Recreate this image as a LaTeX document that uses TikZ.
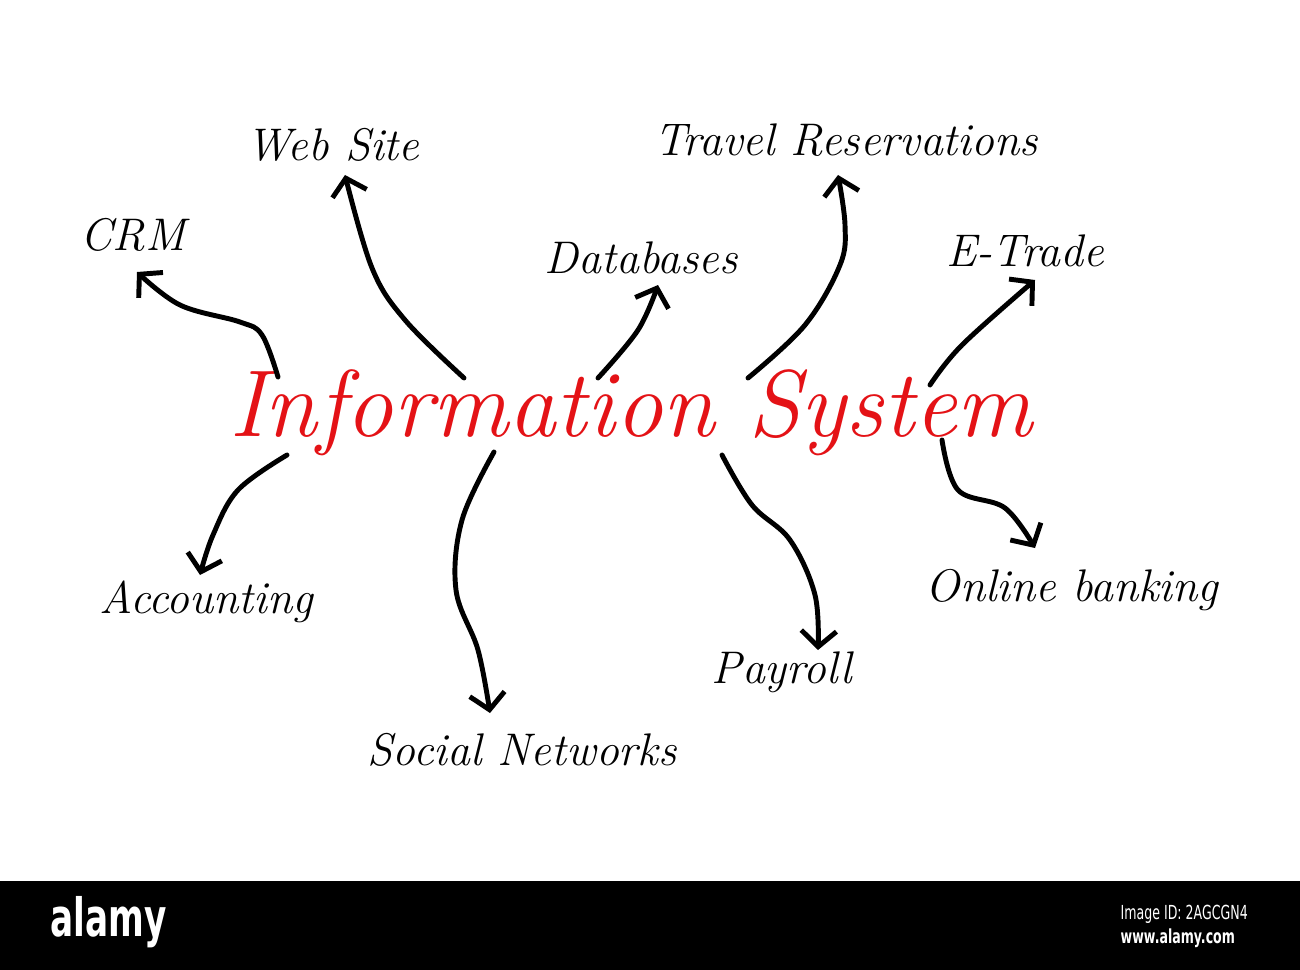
\documentclass[tikz,border=0pt]{standalone}
\usepackage{fontspec}
\usetikzlibrary{arrows.meta}
\newfontfamily\wmfont[FakeStretch=0.65]{DejaVu Sans}
\definecolor{sysred}{RGB}{228,18,22}

\tikzset{
    label/.style={font=\fontsize{13}{15}\selectfont\itshape, inner sep=0pt},
    branch/.style={line width=1.4pt, line cap=round, line join=round,
        -{Straight Barb[length=4.5pt, width=10pt, line width=1.4pt]}},
}

\begin{document}
\begin{tikzpicture}[x=0.01cm, y=-0.01cm]
    \useasboundingbox (0,0) rectangle (1300,970);
    \fill[white] (0,0) rectangle (1300,970);

    % the centre
    \node[font=\fontsize{27}{31}\selectfont\itshape, text=sysred, inner sep=0pt] (info) at (631,413) {Information System};

    % the labels round it
    \node[label] (crm) at (133,235) {CRM};
    \node[label] (web) at (333,145) {Web Site};
    \node[label] (db) at (641,258) {Databases};
    \node[label] (travel) at (846,140) {Travel Reservations};
    \node[label] (etrade) at (1025,251) {E-Trade};
    \node[label] (acc) at (206,602) {Accounting};
    \node[label] (social) at (522,750) {Social Networks};
    \node[label] (payroll) at (782,672) {Payroll};
    \node[label] (bank) at (1072,590) {Online banking};

    % where the strokes start and stop
    \coordinate (s-crm) at (278,377);    \coordinate (t-crm) at (137,272);
    \coordinate (s-web) at (464,378);    \coordinate (t-web) at (345,175);
    \coordinate (s-db) at (598,378);     \coordinate (t-db) at (658,285);
    \coordinate (s-travel) at (748,378); \coordinate (t-travel) at (838,175);
    \coordinate (s-etrade) at (930,385); \coordinate (t-etrade) at (1035,280);
    \coordinate (s-acc) at (287,455);    \coordinate (t-acc) at (200,575);
    \coordinate (s-social) at (494,452); \coordinate (t-social) at (490,713);
    \coordinate (s-payroll) at (722,455); \coordinate (t-payroll) at (818,650);
    \coordinate (s-bank) at (942,440);   \coordinate (t-bank) at (1035,548);

    \draw[branch] plot[smooth, tension=0.6] coordinates {(s-crm) (262,335) (240,322) (180,305) (t-crm)};
    \draw[branch] plot[smooth, tension=0.6] coordinates {(s-web) (405,320) (372,268) (t-web)};
    \draw[branch] plot[smooth, tension=0.6] coordinates {(s-db) (638,330) (t-db)};
    \draw[branch] plot[smooth, tension=0.6] coordinates {(s-travel) (805,325) (840,265) (845,225) (t-travel)};
    \draw[branch] plot[smooth, tension=0.6] coordinates {(s-etrade) (962,345) (t-etrade)};
    \draw[branch] plot[smooth, tension=0.6] coordinates {(s-acc) (238,490) (213,535) (t-acc)};
    \draw[branch] plot[smooth, tension=0.6] coordinates {(s-social) (462,520) (456,590) (478,650) (t-social)};
    \draw[branch] plot[smooth, tension=0.6] coordinates {(s-payroll) (752,505) (790,540) (815,595) (t-payroll)};
    \draw[branch] plot[smooth, tension=0.6] coordinates {(s-bank) (958,490) (1005,508) (t-bank)};

    % band at the foot
    \fill[black] (0,881) rectangle (1300,970);
    \node[text=white, font=\wmfont\bfseries\fontsize{15}{17}\selectfont, anchor=west, inner sep=0pt] (mark) at (50,922) {alamy};
    \node[text=white, font=\wmfont\fontsize{5.5}{7}\selectfont, anchor=west, inner sep=0pt] (imgid) at (1120,914) {Image ID: 2AGCGN4};
    \node[text=white, font=\wmfont\bfseries\fontsize{5.5}{7}\selectfont, anchor=west, inner sep=0pt] (site) at (1120,938) {www.alamy.com};
\end{tikzpicture}
\end{document}
